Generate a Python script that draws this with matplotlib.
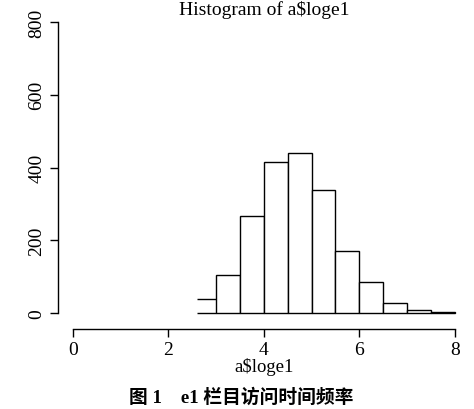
import numpy as np
import matplotlib
matplotlib.use("Agg")
import matplotlib.pyplot as plt

# histogram of a$loge1, counts
bin_edges = [2.6, 3.0, 3.5, 4.0, 4.5, 5.0, 5.5, 6.0, 6.5, 7.0, 7.5, 8.0]
counts = [37, 104, 268, 416, 439, 338, 170, 85, 26, 7, 2]
x_ticks = [0, 2, 4, 6, 8]
y_ticks = [0, 200, 400, 600, 800]

serif = ['Liberation Serif', 'DejaVu Serif']
plt.rcParams['font.family'] = serif

fig = plt.figure(figsize=(4.74, 4.10), dpi=100)
ax = fig.add_axes([0.1217, 0.2059, 0.870, 0.766])

edges = np.array(bin_edges)
lefts = edges[:-1]
widths = np.diff(edges)

# first bin is drawn without its left side, as in the source figure
ax.hlines([counts[0], 0], lefts[0], edges[1], color='black', lw=1.0)
ax.bar(lefts[1:], counts[1:], width=widths[1:], align='edge',
       color='white', edgecolor='black', linewidth=1.0)

ax.set_xlim(-0.32, 8.32)
ax.set_ylim(-32, 832)

ax.spines['top'].set_visible(False)
ax.spines['right'].set_visible(False)
ax.spines['bottom'].set_bounds(0, 8)
ax.spines['left'].set_bounds(0, 800)
ax.spines['bottom'].set_position(('outward', 3))
for s in ('bottom', 'left'):
    ax.spines[s].set_linewidth(1.0)

ax.set_xticks(x_ticks)
ax.set_yticks(y_ticks)
ax.tick_params(axis='both', length=6, width=1.0, labelsize=14, pad=3)
for lab in ax.get_yticklabels():
    lab.set_rotation(90)
    lab.set_va('center')

fig.text(0.558, 0.998, r'Histogram of a\$loge1', ha='center', va='top',
         fontsize=14)
ax.set_xlabel(r'a\$loge1', fontsize=13.5, labelpad=-1)

fig.text(0.508, 0.030, '图 1    e1 栏目访问时间频率', ha='center', va='center',
         fontsize=13.5, fontweight='bold',
         family=['Liberation Serif', 'Noto Sans CJK SC'])

fig.savefig('out.png', dpi=100)
